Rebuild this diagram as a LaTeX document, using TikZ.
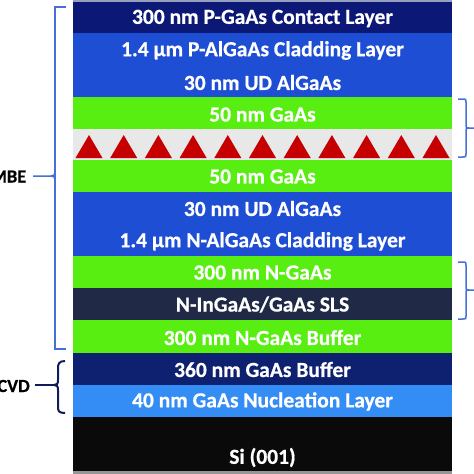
\documentclass[tikz,border=0pt]{standalone}
\usepackage{fontspec}
\setmainfont{Carlito}[BoldFeatures={FakeBold=0.6}]
\definecolor{cnavy}{RGB}{12,24,118}
\definecolor{cblue}{RGB}{30,78,212}
\definecolor{cgreen}{RGB}{88,238,18}
\definecolor{cgrayrow}{RGB}{232,232,232}
\definecolor{cred}{RGB}{198,0,0}
\definecolor{cslate}{RGB}{32,42,70}
\definecolor{cnavytwo}{RGB}{14,32,112}
\definecolor{clight}{RGB}{52,140,245}
\definecolor{cblack}{RGB}{10,10,10}
\definecolor{cbrace}{RGB}{70,112,215}
\definecolor{cbracedark}{RGB}{16,28,90}
\definecolor{cstrip}{RGB}{150,160,190}
\definecolor{cbottom}{RGB}{150,150,150}
\begin{document}
\begin{tikzpicture}[x=1pt,y=-1pt,
  lbl/.style={text=white,font=\bfseries\fontsize{21.5}{24}\selectfont,inner sep=0pt},
  side/.style={text=black,font=\bfseries\fontsize{18.5}{22}\selectfont,inner sep=0pt,anchor=east},
  brc/.style={draw=cbrace,line width=1.5pt},
  brcd/.style={draw=cbracedark,line width=2pt},
  tri/.style={fill=cred}]
\useasboundingbox (0,0) rectangle (474,474);
\fill[white] (0,0) rectangle (474,474);
% layers
\fill[cstrip] (73,0) rectangle (452,2);
\fill[cnavy] (73,2) rectangle (452,33);
\fill[cblue] (73,33) rectangle (452,97);
\fill[cgreen] (73,97) rectangle (452,129);
\fill[cgrayrow] (73,129) rectangle (452,160);
\fill[cgreen] (73,160) rectangle (452,192);
\fill[cblue] (73,192) rectangle (452,256);
\fill[cgreen] (73,256) rectangle (452,288);
\fill[cslate] (73,288) rectangle (452,320);
\fill[cgreen] (73,320) rectangle (452,353);
\fill[cnavytwo] (73,353) rectangle (452,385);
\fill[clight] (73,385) rectangle (452,417);
\fill[cblack] (73,417) rectangle (452,471);
\fill[cbottom] (73,471) rectangle (452,474);
% triangles
\foreach \i in {0,...,10}
  \fill[tri] ({75.5+34.7*\i},158) -- ++(13.5,-23) -- ++(13.5,23) -- cycle;
% labels
\node[lbl] (t1) at (262.5,18.5) {300 nm P-GaAs Contact Layer};
\node[lbl] (t2) at (262.5,50.5) {1.4 µm P-AlGaAs Cladding Layer};
\node[lbl] (t3) at (262.5,82.5) {30 nm UD AlGaAs};
\node[lbl] (t4) at (262.5,114.5) {50 nm GaAs};
\node[lbl] (t5) at (262.5,176.5) {50 nm GaAs};
\node[lbl] (t6) at (262.5,208.5) {30 nm UD AlGaAs};
\node[lbl] (t7) at (262.5,241.5) {1.4 µm N-AlGaAs Cladding Layer};
\node[lbl] (t8) at (262.5,272.5) {300 nm N-GaAs};
\node[lbl] (t9) at (262.5,304.5) {N-InGaAs/GaAs SLS};
\node[lbl] (t10) at (262.5,337.5) {300 nm N-GaAs Buffer};
\node[lbl] (t11) at (262.5,369.5) {360 nm GaAs Buffer};
\node[lbl] (t12) at (262.5,401.5) {40 nm GaAs Nucleation Layer};
\node[lbl] (t13) at (262.5,457.5) {Si (001)};
% side labels
\node[side] (mbe) at (26.5,176.5) {MBE};
\node[side] (mocvd) at (30,386) {MOCVD};
% MBE bracket
\coordinate (mbeTop) at (66,7);
\coordinate (mbeBot) at (66,349);
\coordinate (mbeTip) at (33,176);
\draw[brc] (mbeTop) -- (55,7) -- (55,349) -- (mbeBot);
\draw[brc] (mbeTip) -- (51,176) .. controls (54,176) and (55,175) .. (55,172);
\draw[brc] (51,176) .. controls (54,176) and (55,177) .. (55,180);
% MOCVD brace
\coordinate (mocTop) at (65,361);
\coordinate (mocBot) at (65,413);
\coordinate (mocTip) at (35,385);
\draw[brcd] (mocTop) .. controls (59,361) and (58,364) .. (58,368) -- (58,380)
  .. controls (58,384) and (57,385) .. (54,385)
  .. controls (57,385) and (58,386) .. (58,390) -- (58,407)
  .. controls (58,411) and (59,413) .. (mocBot);
\draw[brcd] (mocTip) -- (54,385);
% right brackets
\coordinate (rAtop) at (458,99);
\coordinate (rAbot) at (458,157);
\coordinate (rAtip) at (474,128);
\draw[brc] (rAtop) -- (463,99) .. controls (466,99) .. (466,102) -- (466,125)
  .. controls (466,128) .. (469,128) -- (rAtip);
\draw[brc] (469,128) .. controls (466,128) .. (466,131) -- (466,154)
  .. controls (466,157) .. (463,157) -- (rAbot);
\coordinate (rBtop) at (458,262);
\coordinate (rBbot) at (458,319);
\coordinate (rBtip) at (474,290);
\draw[brc] (rBtop) -- (463,262) .. controls (466,262) .. (466,265) -- (466,287)
  .. controls (466,290) .. (469,290) -- (rBtip);
\draw[brc] (469,290) .. controls (466,290) .. (466,293) -- (466,316)
  .. controls (466,319) .. (463,319) -- (rBbot);
\end{tikzpicture}
\end{document}
